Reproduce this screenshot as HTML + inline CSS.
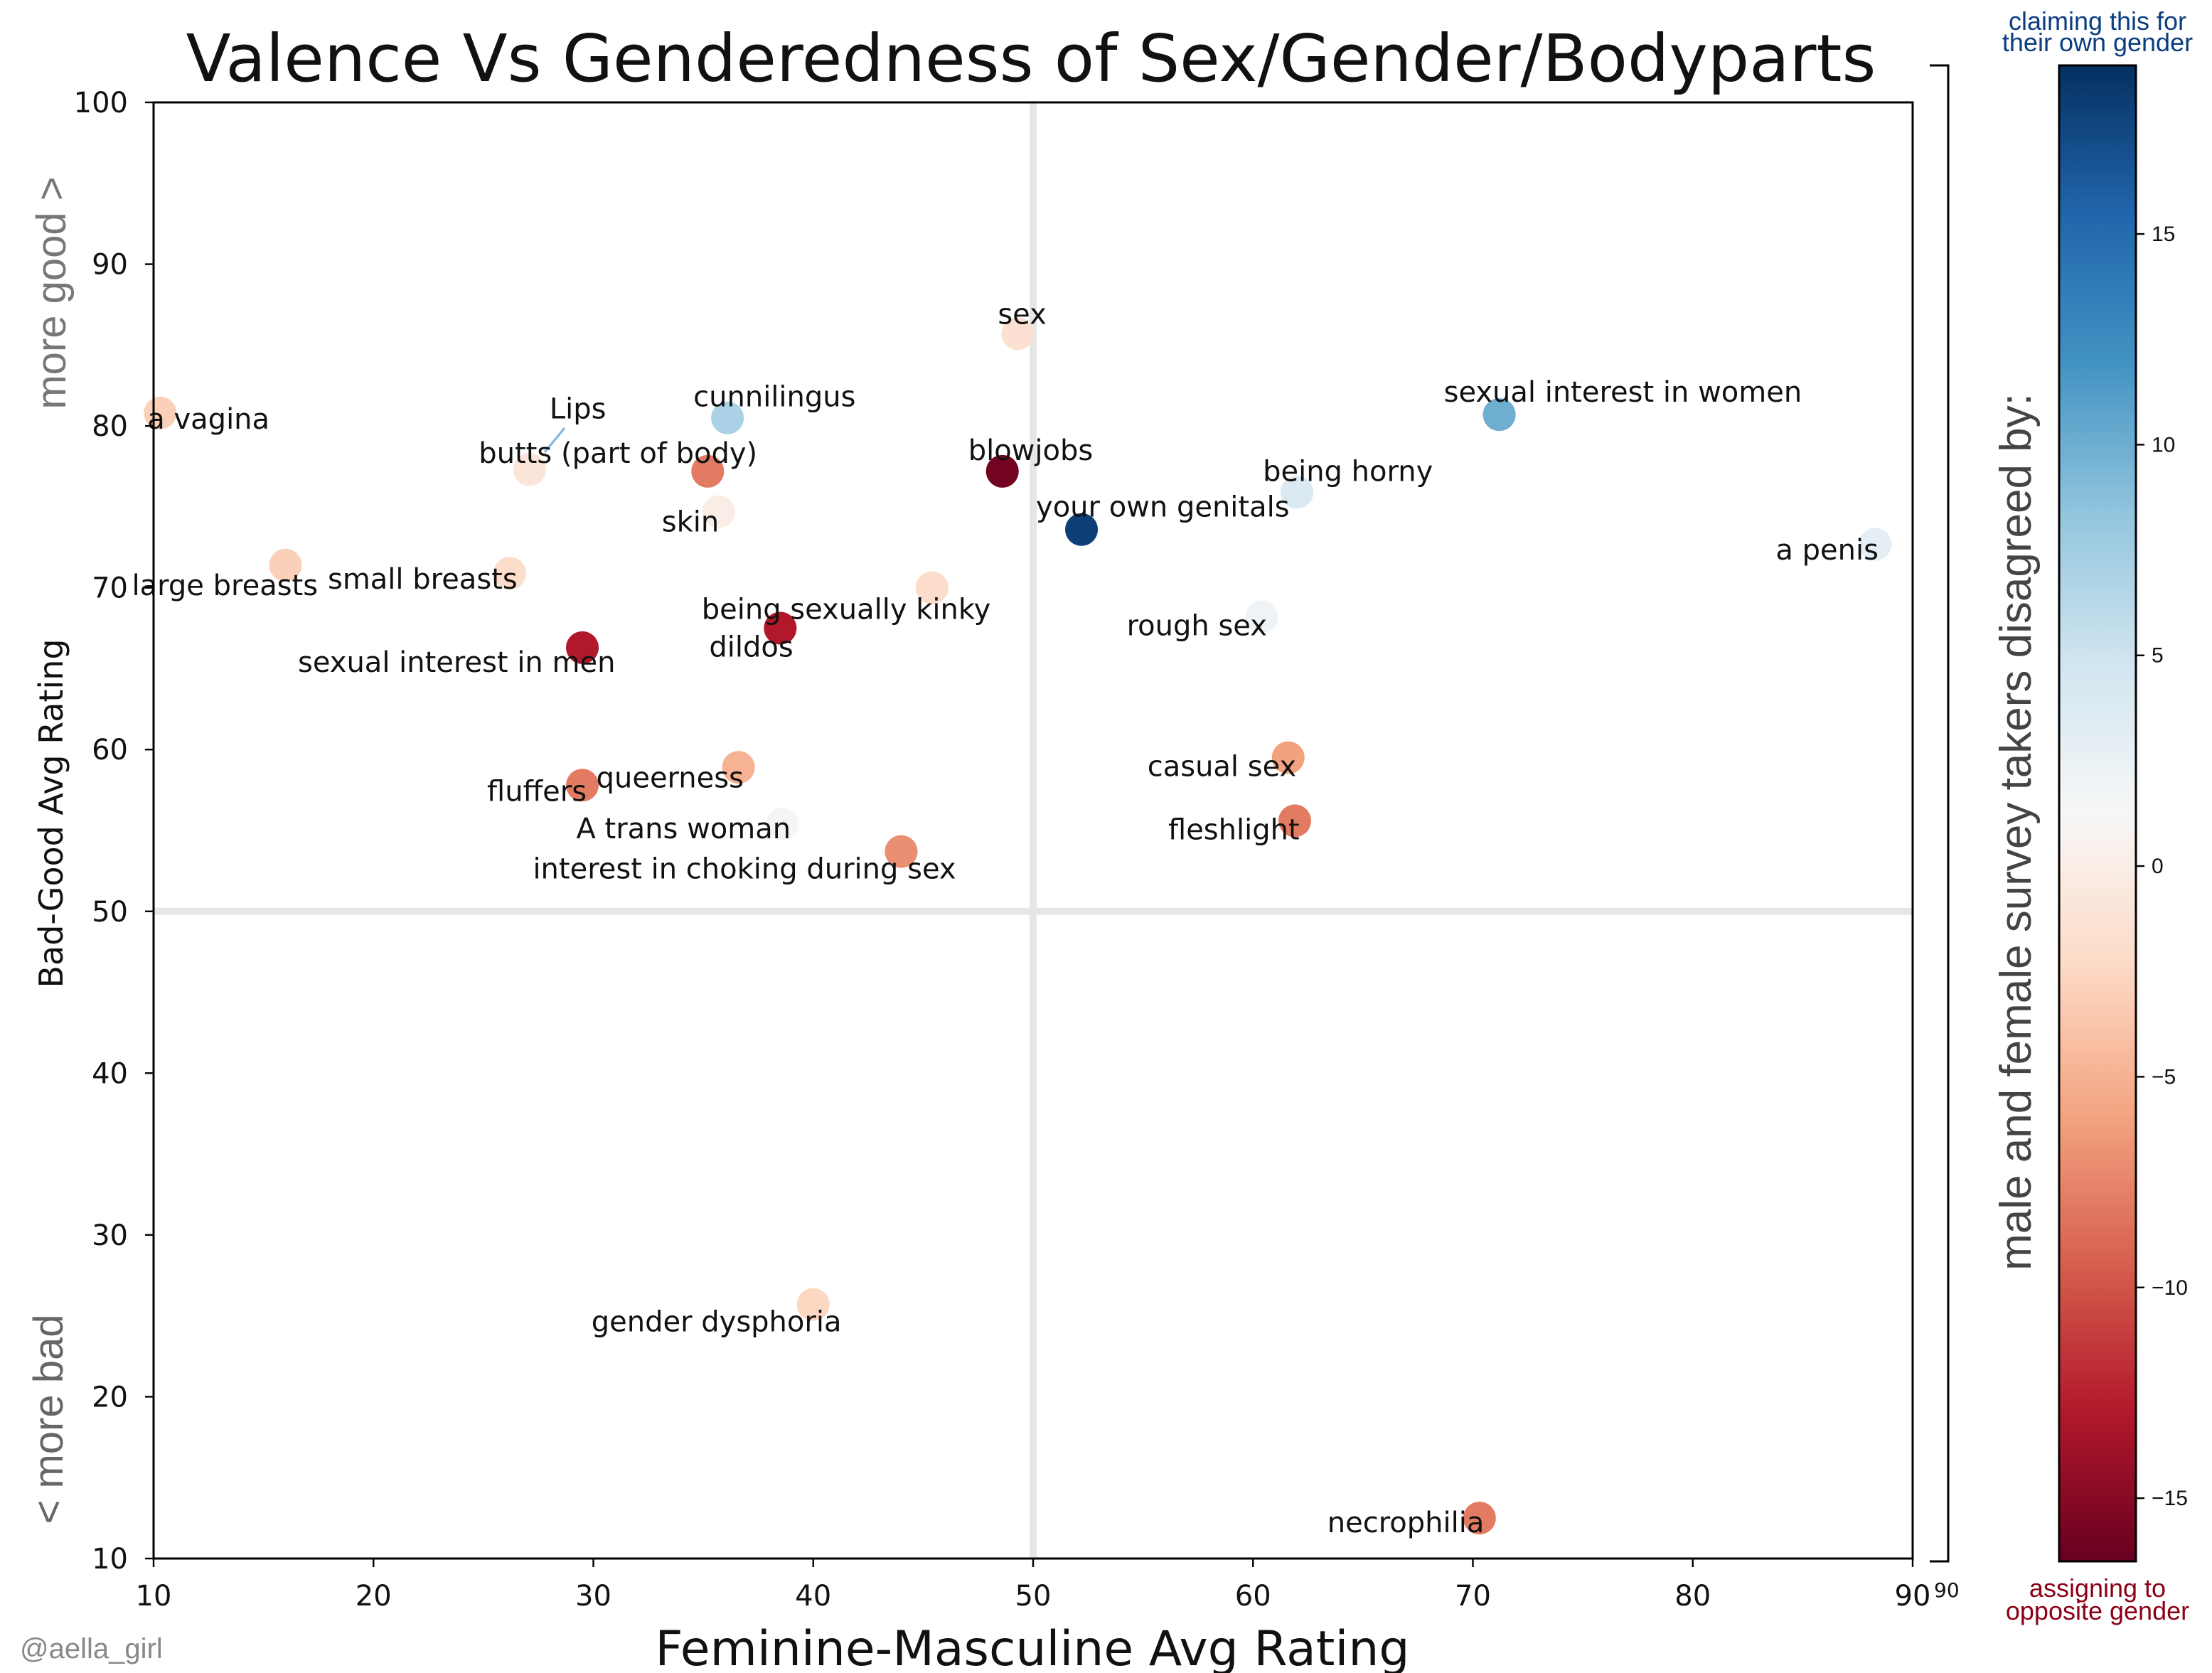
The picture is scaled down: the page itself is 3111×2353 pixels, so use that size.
<!DOCTYPE html>
<html><head><meta charset="utf-8"><style>
html,body{margin:0;padding:0;background:#fff;}
svg{display:block;font-family:"DejaVu Sans","Liberation Sans",sans-serif;}
</style></head><body>
<svg id="chart" width="3111" height="2353" viewBox="0 0 1555.5 1176.5" preserveAspectRatio="none" xmlns="http://www.w3.org/2000/svg">
<defs>
<linearGradient id="cbgrad" x1="0" y1="1" x2="0" y2="0"></linearGradient>
</defs>
<rect width="1555.5" height="1176.5" fill="#fff"/>
<text x="725" y="57" font-size="46" text-anchor="middle" fill="#111">Valence Vs Genderedness of Sex/Gender/Bodyparts</text>
<g id="grid"></g>
<g id="points"></g>
<line x1="383" y1="318" x2="397" y2="301" stroke="#7fb3e0" stroke-width="1.5"/>
<g id="labels"></g>
<rect x="108" y="72" width="1237" height="1024" fill="none" stroke="#000" stroke-width="1.5"/>
<g id="xticks"></g>
<g id="yticks"></g>
<text x="726" y="1171" font-size="34" text-anchor="middle" fill="#111">Feminine-Masculine Avg Rating</text>
<text transform="translate(44,572) rotate(-90)" font-size="23" text-anchor="middle" fill="#111">Bad-Good Avg Rating</text>
<text transform="translate(46,206) rotate(-90)" font-size="29" text-anchor="middle" fill="#777" font-family="Liberation Sans, sans-serif">more good &gt;</text>
<text transform="translate(44,998) rotate(-90)" font-size="29" text-anchor="middle" fill="#666" font-family="Liberation Sans, sans-serif">&lt; more bad</text>
<text x="14" y="1166" font-size="20" fill="#888" font-family="Liberation Sans, sans-serif">@aella_girl</text>
<path d="M1357,46 H1370 V1098 H1357" fill="none" stroke="#000" stroke-width="1.5"/>
<text x="1360" y="1123" font-size="14" fill="#111">90</text>
<rect x="1448" y="46" width="54" height="1052" fill="url(#cbgrad)" stroke="#000" stroke-width="1.5"/>
<g id="cbticks"></g>
<text transform="translate(1428,585) rotate(-90)" font-size="31" text-anchor="middle" fill="#444" font-family="Liberation Sans, sans-serif">male and female survey takers disagreed by:</text>
<text x="1475" y="21" font-size="18" text-anchor="middle" fill="#0b3d80" font-family="Liberation Sans, sans-serif">claiming this for</text>
<text x="1475" y="36" font-size="18" text-anchor="middle" fill="#0b3d80" font-family="Liberation Sans, sans-serif">their own gender</text>
<text x="1475" y="1123" font-size="18" text-anchor="middle" fill="#8b0015" font-family="Liberation Sans, sans-serif">assigning to</text>
<text x="1475" y="1139" font-size="18" text-anchor="middle" fill="#8b0015" font-family="Liberation Sans, sans-serif">opposite gender</text>
</svg>
<script>
const names = ["a vagina","Lips","butts (part of body)","cunnilingus","sex","blowjobs","skin","your own genitals","being horny","sexual interest in women","a penis","large breasts","small breasts","being sexually kinky","dildos","rough sex","sexual interest in men","casual sex","fleshlight","queerness","fluffers","A trans woman","interest in choking during sex","gender dysphoria","necrophilia"];
const xVals = [10.3,27.1,35.2,36.1,49.3,48.6,35.7,52.2,62.0,71.2,88.3,16.0,26.2,45.4,38.5,60.4,29.5,61.6,61.9,36.6,29.5,38.6,44.0,40.0,70.3];
const yVals = [80.8,77.3,77.2,80.5,85.7,77.2,74.7,73.6,75.9,80.7,72.7,71.4,70.9,70.0,67.5,68.2,66.3,59.5,55.6,58.9,57.8,55.4,53.7,25.7,12.5];
const disagree = [-3,-1,-8,7,-1.5,-16,0,18,4,10,3,-3,-2,-2,-13,2,-13,-6,-8,-5,-8,1,-7,-2.5,-8];
const labelDx = [-9,14,-161,-24,-14,-24,-40,-32,-24,-39,-70,-108,-128,-162,-50,-95,-200,-99,-89,-100,-67,-145,-259,-156,-107];
const labelDy = [11,-36,-6,-8,-7,-8,14,-9,-8,-9,11,21,11,22,20,13,17,13,13,14,11,10,19,19,10];
const xTicks = [10,20,30,40,50,60,70,80,90];
const yTicks = [10,20,30,40,50,60,70,80,90,100];
const cbTicks = [15,10,5,0,-5,-10,-15];
const cbMin = -16.5, cbMax = 19;

const NS = "http://www.w3.org/2000/svg";
const X = v => 108 + (v - 10) / 80 * 1237;
const Y = v => 1096 - (v - 10) / 90 * 1024;
const CB = v => 1098 - (v - cbMin) / (cbMax - cbMin) * 1052;
const stops = ["#67001f","#b2182b","#d6604d","#f4a582","#fddbc7","#f7f7f7","#d1e5f0","#92c5de","#4393c3","#2166ac","#053061"];
function hex(h){return [1,3,5].map(i=>parseInt(h.substr(i,2),16));}
function cmap(v){
  let t = Math.max(0, Math.min(1, (v - cbMin) / (cbMax - cbMin))) * (stops.length - 1);
  let i = Math.min(Math.floor(t), stops.length - 2), f = t - i;
  let a = hex(stops[i]), b = hex(stops[i+1]);
  return "rgb(" + a.map((c,k)=>Math.round(c + (b[k]-c)*f)).join(",") + ")";
}
function mk(tag, attrs, parent){
  const e = document.createElementNS(NS, tag);
  for (const k in attrs) e.setAttribute(k, attrs[k]);
  parent.appendChild(e); return e;
}
const grad = document.getElementById("cbgrad");
stops.forEach((c,i)=>mk("stop",{offset:(i/(stops.length-1)),"stop-color":c},grad));

const grid = document.getElementById("grid");
let gv = mk("line",{x1:X(50),x2:X(50),y1:72,y2:1096,stroke:"#e6e6e6","stroke-width":5},grid);


let gh = mk("line",{x1:108,x2:1345,y1:Y(50),y2:Y(50),stroke:"#e6e6e6","stroke-width":5},grid);



const xt = document.getElementById("xticks");
xTicks.forEach(v=>{
  mk("line",{x1:X(v),x2:X(v),y1:1096,y2:1102,stroke:"#000","stroke-width":1.2},xt);
  const t = mk("text",{x:X(v),y:1129,"font-size":20,"text-anchor":"middle",fill:"#111"},xt);
  t.textContent = v;
  
  
});
const yt = document.getElementById("yticks");
yTicks.forEach(v=>{
  mk("line",{x1:102,x2:108,y1:Y(v),y2:Y(v),stroke:"#000","stroke-width":1.2},yt);
  const t = mk("text",{x:90,y:Y(v)+7,"font-size":20,"text-anchor":"end",fill:"#111"},yt);
  t.textContent = v;
  
  
});
const cbt = document.getElementById("cbticks");
cbTicks.forEach(v=>{
  mk("line",{x1:1502,x2:1508,y1:CB(v),y2:CB(v),stroke:"#000","stroke-width":1.2},cbt);
  const t = mk("text",{x:1513,y:CB(v)+5,"font-size":15,fill:"#111","font-family":"Liberation Sans, sans-serif"},cbt);
  t.textContent = v < 0 ? "\u2212" + (-v) : v;
  
  
});

const pg = document.getElementById("points"), lg = document.getElementById("labels");
names.forEach((n,i)=>{
  const cx = X(xVals[i]), cy = Y(yVals[i]);
  const c = mk("circle",{cx:cx,cy:cy,r:11.5,fill:cmap(disagree[i])},pg);
  
  
  const t = mk("text",{x:cx+labelDx[i],y:cy+labelDy[i],"font-size":20,fill:"#111"},lg);
  t.textContent = n;
  
  
});
</script>
</body></html>
